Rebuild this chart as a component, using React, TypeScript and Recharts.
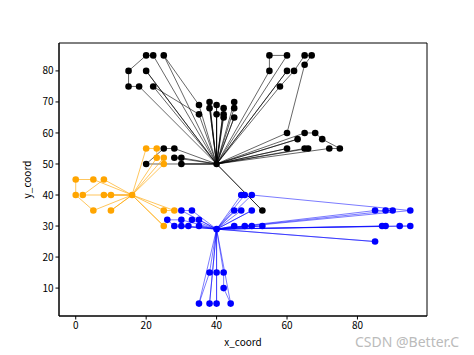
// @ts-nocheck
import { ScatterChart, Scatter, XAxis, YAxis, ReferenceArea } from 'recharts';

// depots
const blackDepot = [40, 50];
const orangeDepot = [16, 40];
const blueDepot = [40, 29];

// routes: each list of customers is visited depot -> ... -> depot
const blackRoutes = [
  [[18, 75], [15, 75], [15, 80], [20, 85], [22, 85]],
  [[20, 80]],
  [[22, 75], [35, 66]],
  [[25, 85], [35, 69]],
  [[38, 70]],
  [[38, 68]],
  [[40, 69]],
  [[40, 66]],
  [[42, 68]],
  [[42, 66], [42, 65]],
  [[45, 70], [45, 68]],
  [[45, 65]],
  [[55, 80], [55, 85], [60, 85]],
  [[60, 80]],
  [[58, 75], [62, 80], [65, 85], [67, 85], [65, 82], [60, 60]],
  [[65, 60], [68, 60], [70, 58], [75, 55], [72, 55]],
  [[63, 58]],
  [[60, 55]],
  [[65, 55], [66, 55]],
  [[30, 52], [28, 52]],
  [[28, 55], [25, 55], [20, 50]],
  [[30, 50]],
  [[53, 35]],
];

const orangeRoutes = [
  [[25, 50], [25, 52]],
  [[23, 52], [23, 55], [20, 55]],
  [[5, 45], [0, 45], [0, 40], [5, 35]],
  [[8, 45], [2, 40]],
  [[8, 40], [10, 40]],
  [[10, 35]],
  [[25, 35], [28, 35]],
  [[25, 30]],
];

const blueRoutes = [
  [[35, 32], [33, 32]],
  [[30, 32], [26, 32], [28, 30]],
  [[30, 30], [32, 30]],
  [[35, 30]],
  [[33, 35], [30, 35]],
  [[47, 40], [48, 40]],
  [[50, 40], [95, 35]],
  [[45, 35], [47, 35]],
  [[50, 35]],
  [[90, 35], [88, 35], [85, 35]],
  [[45, 30]],
  [[48, 30], [50, 30]],
  [[53, 30]],
  [[87, 30], [88, 30]],
  [[92, 30], [95, 30]],
  [[85, 25]],
  [[38, 15], [35, 5]],
  [[38, 5]],
  [[40, 15], [40, 5]],
  [[42, 15], [42, 10], [44, 5]],
];

const xTicks = [0, 20, 40, 60, 80];
const yTicks = [10, 20, 30, 40, 50, 60, 70, 80];

const groups = [
  { depot: blackDepot, routes: blackRoutes, color: '#000000', opacity: 0.75 },
  { depot: orangeDepot, routes: orangeRoutes, color: '#ffa500', opacity: 0.8 },
  { depot: blueDepot, routes: blueRoutes, color: '#0000ff', opacity: 0.65 },
];

const toPt = (p) => ({ x: p[0], y: p[1] });

const Dot = (props) => {
  const { cx, cy, fill } = props;
  if (cx == null || cy == null) return <g />;
  return <circle cx={cx} cy={cy} r={3.3} fill={fill} />;
};

const NoDot = () => <g />;

const tickStyle = { fontSize: 10, fill: '#000', fontFamily: '"Noto Sans CJK SC", "DejaVu Sans", sans-serif' };

export default function App() {
  const lineSeries = [];
  const pointSeries = [];
  groups.forEach((g, gi) => {
    g.routes.forEach((r, ri) => {
      const data = [g.depot, ...r, g.depot].map(toPt);
      lineSeries.push(
        <Scatter
          key={`l-${gi}-${ri}`}
          data={data}
          fill={g.color}
          shape={NoDot}
          line={{ stroke: g.color, strokeWidth: 0.8, strokeOpacity: g.opacity }}
          lineType="joint"
          isAnimationActive={false}
        />
      );
    });
    const pts = [g.depot, ...g.routes.flat()].map(toPt);
    pointSeries.push(
      <Scatter key={`p-${gi}`} data={pts} fill={g.color} shape={Dot} isAnimationActive={false} />
    );
  });

  return (
    <div style={{ position: 'fixed', left: 0, top: 0, width: 474, height: 355, background: '#fff' }}>
      <ScatterChart width={474} height={355} margin={{ top: 43, right: 47, left: 0, bottom: 0 }}>
        <XAxis
          type="number"
          dataKey="x"
          domain={[-4.75, 99.75]}
          ticks={xTicks}
          allowDataOverflow
          height={39}
          tickSize={3.5}
          tickMargin={2}
          stroke="#000"
          tick={tickStyle}
          label={{ value: 'x_coord', position: 'insideBottom', offset: 9, style: tickStyle }}
        />
        <YAxis
          type="number"
          dataKey="y"
          domain={[1, 89]}
          ticks={yTicks}
          allowDataOverflow
          width={59}
          tickSize={3.5}
          tickMargin={2}
          stroke="#000"
          tick={tickStyle}
          label={{ value: 'y_coord', angle: -90, position: 'insideLeft', offset: 27, style: { ...tickStyle, textAnchor: 'middle' } }}
        />
        <ReferenceArea x1={-4.75} x2={99.75} y1={1} y2={89} fill="none" stroke="#000" strokeWidth={1} ifOverflow="visible" />
        {lineSeries}
        {pointSeries}
      </ScatterChart>
      <div
        style={{
          position: 'absolute',
          left: 355,
          top: 332,
          fontSize: 14,
          color: '#bbbbbb',
          fontFamily: '"Noto Sans", "DejaVu Sans", sans-serif',
          whiteSpace: 'nowrap',
        }}
      >
        CSDN @Better.C
      </div>
    </div>
  );
}
